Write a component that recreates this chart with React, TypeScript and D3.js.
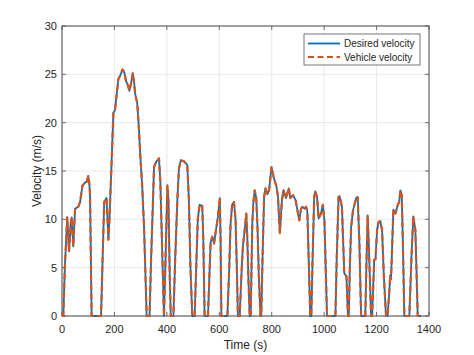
import React from "react";
import * as d3 from "d3";

const timeS = [0,5,11,20,27,33,37,43,50,62,69,78,88,95,100,104,107,113,149,155,161,170,177,181,188,196,202,209,215,224,231,238,244,250,257,263,270,275,279,287,292,300,306,313,323,334,340,346,351,360,370,375,381,389,395,402,406,411,415,425,432,440,446,453,466,478,484,490,497,506,512,518,525,535,539,544,557,562,567,573,580,589,595,602,605,608,631,638,643,649,656,662,666,671,678,684,690,697,703,707,711,716,720,723,726,730,735,741,746,751,757,760,765,771,776,784,790,799,807,818,824,831,839,845,854,865,871,881,891,897,905,912,917,925,931,936,941,947,951,956,962,966,973,979,988,995,1001,1006,1011,1043,1048,1055,1059,1068,1072,1077,1085,1091,1094,1098,1103,1110,1122,1128,1134,1141,1157,1161,1166,1172,1179,1183,1191,1196,1202,1208,1214,1221,1228,1236,1242,1249,1252,1255,1258,1264,1272,1281,1286,1291,1296,1300,1306,1325,1333,1340,1348,1352,1357,1370];

const desiredVelocity = [0,0,5.1,10.2,6.7,9.5,10.2,7.2,11.1,11.3,11.8,13.5,13.8,13.9,14.5,13.8,12.5,0,0,6,11.8,12.2,7.9,10,15,21,21.3,23,24.5,25,25.5,25.2,24.3,24,23.3,24,25.1,24.2,23,22,20,16,13.4,9.2,0,0,6,11,15.4,16,16.3,14,8,0,6,13.5,12,4,0,0,6,12,15.2,16.1,16,15.6,12,5,0,0,5,10,11.5,11.4,8,0,0,4,7.6,8.2,7.5,9.2,10.3,12.2,8,0,0,5,9.5,11.5,11.8,10,6,0,0,4,7.2,8.9,10.6,8,4,0,0,5,9.6,11.8,13,12.2,9,4,0,0,6,12.3,13.2,12.6,13,15.4,14.4,13.4,12.3,8.6,12,13,12.2,13.2,12.2,12.5,12,11.1,9.9,11.1,11.3,11.1,11.3,10.8,6,0,0,6,12.3,12.9,12.3,10.1,10.6,11.5,9.9,5,0,0,6,12.3,12.4,11.3,8,4.4,4.1,0,0,5,9.2,10.9,12.2,12.3,8,0,0,5,10.4,6,0,0,5.8,5.9,8.9,9.75,9.8,8.9,4,0,0,2.7,4.2,3.8,6,11,10.6,11.5,11.8,13,12.5,8,0,0,6,10.3,8.9,5,0,0];

const vehicleVelocity = [0,0,5.1,10.2,6.7,9.5,10.2,7.2,11.1,11.3,11.8,13.5,13.8,13.9,14.5,13.8,12.5,0,0,6,11.8,12.2,7.9,10,15,21,21.3,23,24.5,25,25.5,25.2,24.3,24,23.3,24,25.1,24.2,23,22,20,16,13.4,9.2,0,0,6,11,15.4,16,16.3,14,8,0,6,13.5,12,4,0,0,6,12,15.2,16.1,16,15.6,12,5,0,0,5,10,11.5,11.4,8,0,0,4,7.6,8.2,7.5,9.2,10.3,12.2,8,0,0,5,9.5,11.5,11.8,10,6,0,0,4,7.2,8.9,10.6,8,4,0,0,5,9.6,11.8,13,12.2,9,4,0,0,6,12.3,13.2,12.6,13,15.4,14.4,13.4,12.3,8.6,12,13,12.2,13.2,12.2,12.5,12,11.1,9.9,11.1,11.3,11.1,11.3,10.8,6,0,0,6,12.3,12.9,12.3,10.1,10.6,11.5,9.9,5,0,0,6,12.3,12.4,11.3,8,4.4,4.1,0,0,5,9.2,10.9,12.2,12.3,8,0,0,5,10.4,6,0,0,5.8,5.9,8.9,9.75,9.8,8.9,4,0,0,2.7,4.2,3.8,6,11,10.6,11.5,11.8,13,12.5,8,0,0,6,10.3,8.9,5,0,0];

const xTicks = [0, 200, 400, 600, 800, 1000, 1200, 1400];
const yTicks = [0, 5, 10, 15, 20, 25, 30];
const legendLabels = ["Desired velocity", "Vehicle velocity"];
const xLabel = "Time (s)";
const yLabel = "Velocity (m/s)";

export default function App() {
  const W = 474, H = 355;
  const L = 62, R = 429, T = 26, B = 316;
  const x = d3.scaleLinear().domain([0, 1400]).range([L, R]);
  const y = d3.scaleLinear().domain([0, 30]).range([B, T]);
  const line = d3.line<number>().x((_, i) => x(timeS[i])).y((d) => y(d));
  const font = "'Liberation Sans', Arial, Helvetica, sans-serif";
  const axisColor = "#4d4d4d";
  const tickLen = 4;
  return (
    <svg width={W} height={H} style={{ position: "absolute", left: 0, top: 0, background: "#fff" }} fontFamily={font}>
      <rect x={0} y={0} width={W} height={H} fill="#fff" />
      {/* grid */}
      {xTicks.map((t) => (
        <line key={"gx" + t} x1={x(t)} x2={x(t)} y1={T} y2={B} stroke="#e3e3e3" strokeWidth={0.8} />
      ))}
      {yTicks.map((t) => (
        <line key={"gy" + t} x1={L} x2={R} y1={y(t)} y2={y(t)} stroke="#e3e3e3" strokeWidth={0.8} />
      ))}
      {/* ticks */}
      {xTicks.map((t) => (
        <g key={"tx" + t}>
          <line x1={x(t)} x2={x(t)} y1={B} y2={B - tickLen} stroke={axisColor} strokeWidth={0.8} />
          <line x1={x(t)} x2={x(t)} y1={T} y2={T + tickLen} stroke={axisColor} strokeWidth={0.8} />
          <text x={x(t)} y={333} textAnchor="middle" fontSize={11} fill="#262626">{t}</text>
        </g>
      ))}
      {yTicks.map((t) => (
        <g key={"ty" + t}>
          <line x1={L} x2={L + tickLen} y1={y(t)} y2={y(t)} stroke={axisColor} strokeWidth={0.8} />
          <line x1={R} x2={R - tickLen} y1={y(t)} y2={y(t)} stroke={axisColor} strokeWidth={0.8} />
          <text x={L - 5} y={y(t) + 4} textAnchor="end" fontSize={11} fill="#262626">{t}</text>
        </g>
      ))}
      {/* box */}
      <rect x={L} y={T} width={R - L} height={B - T} fill="none" stroke={axisColor} strokeWidth={1} />
      {/* series */}
      <path d={line(desiredVelocity) || ""} fill="none" stroke="#0072BD" strokeWidth={1.8} strokeLinejoin="round" />
      <path d={line(vehicleVelocity) || ""} fill="none" stroke="#D95319" strokeWidth={2.2} strokeDasharray="6,3.5" strokeLinejoin="round" />
      {/* labels */}
      <text x={(L + R) / 2} y={349} textAnchor="middle" fontSize={12} fill="#262626">{xLabel}</text>
      <text transform={`translate(41,${(T + B) / 2}) rotate(-90)`} textAnchor="middle" fontSize={12} fill="#262626">{yLabel}</text>
      {/* legend */}
      <g>
        <rect x={304} y={34} width={116} height={31} fill="#fff" stroke="#555" strokeWidth={0.8} />
        <line x1={308} x2={340} y1={43.5} y2={43.5} stroke="#0072BD" strokeWidth={1.8} />
        <line x1={308} x2={340} y1={57} y2={57} stroke="#D95319" strokeWidth={2.2} strokeDasharray="6,3.5" />
        <text x={344} y={47} fontSize={10} fill="#262626">{legendLabels[0]}</text>
        <text x={344} y={60.5} fontSize={10} fill="#262626">{legendLabels[1]}</text>
      </g>
    </svg>
  );
}
